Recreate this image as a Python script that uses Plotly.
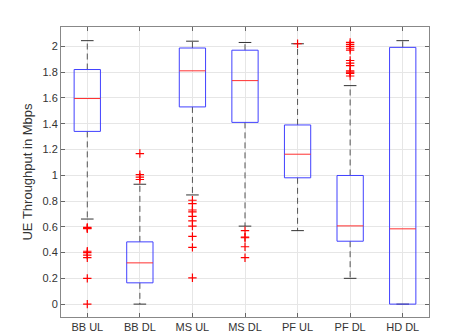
import plotly.graph_objects as go

categories = ["BB UL", "BB DL", "MS UL", "MS DL", "PF UL", "PF DL", "HD DL"]
q1 = [1.34, 0.165, 1.53, 1.41, 0.98, 0.488, 0.0]
median = [1.595, 0.32, 1.81, 1.734, 1.163, 0.607, 0.584]
q3 = [1.82, 0.483, 1.987, 1.97, 1.39, 0.998, 1.992]
lower_whisker = [0.66, 0.0, 0.847, 0.605, 0.57, 0.2, 0.0]
upper_whisker = [2.044, 0.93, 2.04, 2.03, 2.02, 1.695, 2.044]
outliers = [
    [0.59, 0.595, 0.585, 0.41, 0.40, 0.38, 0.36, 0.2, 0.0],
    [1.168, 1.005, 0.985, 0.967],
    [0.806, 0.78, 0.73, 0.715, 0.68, 0.646, 0.605, 0.525, 0.44, 0.204],
    [0.57, 0.52, 0.515, 0.445, 0.36],
    [2.02],
    [2.03, 2.015, 2.0, 1.985, 1.97, 1.89, 1.87, 1.85, 1.81, 1.80, 1.79, 1.77],
    [],
]
yticks = [0, 0.2, 0.4, 0.6, 0.8, 1, 1.2, 1.4, 1.6, 1.8, 2]

BOX_HALF = 0.25
CAP_HALF = 0.12

bx, by, mx, my, wx, wy, cx, cy, ox, oy = [], [], [], [], [], [], [], [], [], []
for i in range(len(categories)):
    p = i + 1
    bx += [p - BOX_HALF, p + BOX_HALF, p + BOX_HALF, p - BOX_HALF, p - BOX_HALF, None]
    by += [q1[i], q1[i], q3[i], q3[i], q1[i], None]
    mx += [p - BOX_HALF, p + BOX_HALF, None]
    my += [median[i], median[i], None]
    wx += [p, p, None, p, p, None]
    wy += [q3[i], upper_whisker[i], None, q1[i], lower_whisker[i], None]
    cx += [p - CAP_HALF, p + CAP_HALF, None, p - CAP_HALF, p + CAP_HALF, None]
    cy += [upper_whisker[i], upper_whisker[i], None, lower_whisker[i], lower_whisker[i], None]
    for v in outliers[i]:
        ox.append(p)
        oy.append(v)

fig = go.Figure()
fig.add_trace(go.Scatter(x=wx, y=wy, mode="lines",
                         line=dict(color="#555555", width=1, dash="6px,4px"), hoverinfo="skip"))
fig.add_trace(go.Scatter(x=cx, y=cy, mode="lines",
                         line=dict(color="#333333", width=1), hoverinfo="skip"))
fig.add_trace(go.Scatter(x=bx, y=by, mode="lines",
                         line=dict(color="#4040ff", width=1), hoverinfo="skip"))
fig.add_trace(go.Scatter(x=mx, y=my, mode="lines",
                         line=dict(color="#ff3030", width=1), hoverinfo="skip"))
fig.add_trace(go.Scatter(x=ox, y=oy, mode="markers",
                         marker=dict(symbol="cross-thin", size=6,
                                     line=dict(color="#ff0000", width=1.2)),
                         hoverinfo="skip"))

axis_common = dict(
    showline=True, linecolor="#888888", linewidth=1, mirror="ticks",
    ticks="inside", ticklen=4, tickcolor="#666666",
    showgrid=True, gridcolor="#e6e6e6", gridwidth=1, zeroline=False,
    automargin=False,
    tickfont=dict(family="Liberation Sans, Arial, sans-serif", size=11, color="#333333"),
)

fig.update_layout(
    width=474, height=333,
    margin=dict(l=61, r=45, t=27, b=16, autoexpand=False),
    paper_bgcolor="white", plot_bgcolor="white",
    showlegend=False,
    xaxis=dict(range=[0.5, 7.5], tickmode="array",
               tickvals=list(range(1, len(categories) + 1)), ticktext=categories,
               **axis_common),
    yaxis=dict(range=[-0.1, 2.15], tickmode="array", tickvals=yticks,
               ticktext=[f"{v:g}" for v in yticks],
               title=dict(text="UE Throughput in Mbps",
                          font=dict(family="Liberation Sans, Arial, sans-serif", size=13, color="#333333"),
                          standoff=6),
               **axis_common),
)

fig.write_html("out.html")
